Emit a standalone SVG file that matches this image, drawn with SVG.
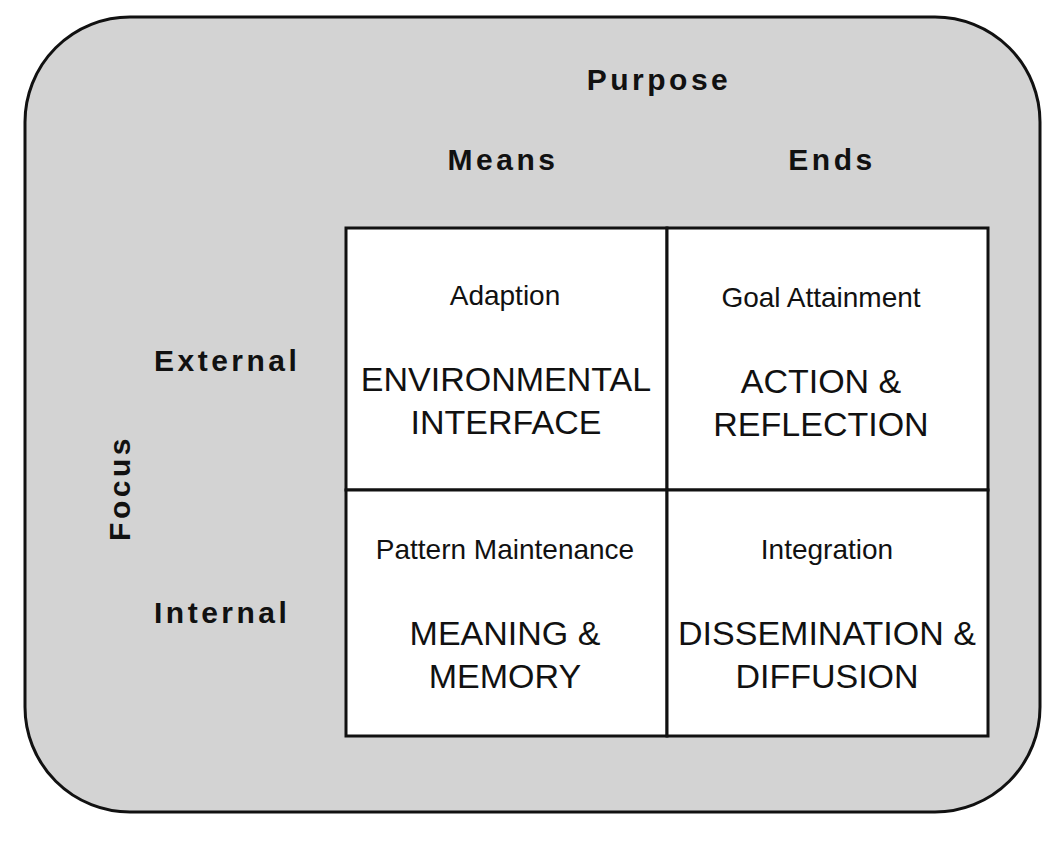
<svg xmlns="http://www.w3.org/2000/svg" width="1053" height="860" viewBox="0 0 1053 860">
<style>
.h{font-family:"Liberation Sans",Arial,sans-serif;font-weight:bold;font-size:30px;letter-spacing:3.5px;fill:#111}
.s{font-family:"Liberation Sans",Arial,sans-serif;font-size:28px;fill:#111;text-anchor:middle}
.b{font-family:"Liberation Sans",Arial,sans-serif;font-size:34px;fill:#111;text-anchor:middle}
.c{fill:#fff;stroke:#111;stroke-width:3}
</style>
<rect width="1053" height="860" fill="#fff"/>
<g id="frame"><rect x="25" y="17" width="1015" height="795" rx="105" ry="105" fill="#d3d3d3" stroke="#111" stroke-width="3"/></g>
<g id="headers">
<text class="h" x="659" y="90" text-anchor="middle">Purpose</text>
<text class="h" x="503" y="170" text-anchor="middle">Means</text>
<text class="h" x="832" y="170" text-anchor="middle">Ends</text>
<text class="h" x="154" y="371">External</text>
<text class="h" x="154" y="623">Internal</text>
<text class="h" transform="translate(130,488) rotate(-90)" text-anchor="middle">Focus</text>
</g>
<g id="cell-adaption"><rect class="c" x="346" y="228" width="321" height="262"/>
<text class="s" x="505" y="305">Adaption</text><text class="b" x="506" y="391">ENVIRONMENTAL</text><text class="b" x="506" y="434">INTERFACE</text></g>
<g id="cell-goal"><rect class="c" x="667" y="228" width="321" height="262"/>
<text class="s" x="821" y="307">Goal Attainment</text><text class="b" x="821" y="393">ACTION &amp;</text><text class="b" x="821" y="436">REFLECTION</text></g>
<g id="cell-pattern"><rect class="c" x="346" y="490" width="321" height="246"/>
<text class="s" x="505" y="559">Pattern Maintenance</text><text class="b" x="505" y="645">MEANING &amp;</text><text class="b" x="505" y="688">MEMORY</text></g>
<g id="cell-integration"><rect class="c" x="667" y="490" width="321" height="246"/>
<text class="s" x="827" y="559">Integration</text><text class="b" x="827" y="645">DISSEMINATION &amp;</text><text class="b" x="827" y="688">DIFFUSION</text></g>
<g id="connectors"/>
</svg>
